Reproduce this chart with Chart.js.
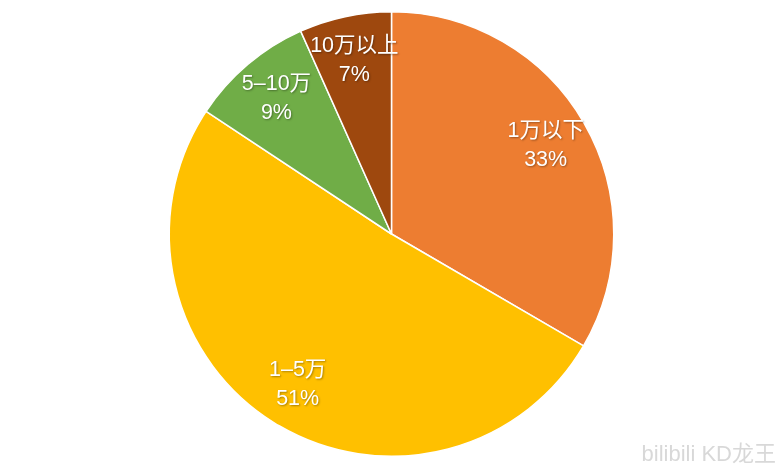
<!DOCTYPE html>
<html><head><meta charset="utf-8">
<script src="https://cdn.jsdelivr.net/npm/chart.js@4"></script>
<style>html,body{margin:0;padding:0;background:#fff;}#wrap{width:783px;height:470px;position:relative;}</style>
</head><body><div id="wrap"><canvas id="c" width="783" height="470"></canvas></div>
<script>
const categories = ['1万以下', '1–5万', '5–10万', '10万以上'];
const values = [33.4, 50.9, 9.0, 6.7];
const colors = ['#ED7D31', '#FFC000', '#70AD47', '#9E480E'];

const labelPlugin = {
  id: 'sliceLabels',
  afterDatasetsDraw(chart) {
    const ctx = chart.ctx;
    const meta = chart.getDatasetMeta(0);
    const total = values.reduce((a, b) => a + b, 0);
    ctx.save();
    ctx.font = '21.5px "Liberation Sans", Arial, "Noto Sans CJK SC", sans-serif';
    ctx.fillStyle = '#fff';
    ctx.textAlign = 'center';
    ctx.textBaseline = 'middle';
    ctx.shadowColor = 'rgba(0,0,0,0.35)';
    ctx.shadowBlur = 2;
    ctx.shadowOffsetX = 1;
    ctx.shadowOffsetY = 1;
    meta.data.forEach((arc, i) => {
      const p = arc.getProps(['x', 'y', 'startAngle', 'endAngle', 'outerRadius'], true);
      const mid = (p.startAngle + p.endAngle) / 2;
      const r = p.outerRadius * 0.8;
      const x = p.x + Math.cos(mid) * r;
      const y = p.y + Math.sin(mid) * r;
      const pct = Math.round(values[i] / total * 100) + '%';
      ctx.fillText(categories[i], x, y - 14.5);
      ctx.fillText(pct, x, y + 14.5);
    });
    ctx.restore();
    // watermark
    ctx.save();
    ctx.font = '22px "Liberation Sans", Arial, "Noto Sans CJK SC", sans-serif';
    ctx.fillStyle = 'rgba(200,200,200,0.7)';
    ctx.textAlign = 'right';
    ctx.textBaseline = 'middle';
    ctx.fillText('bilibili KD龙王', 776, 455);
    ctx.restore();
  }
};

new Chart(document.getElementById('c'), {
  type: 'pie',
  data: {
    labels: categories,
    datasets: [{
      data: values,
      backgroundColor: colors,
      borderColor: '#fff',
      borderWidth: 1.5
    }]
  },
  options: {
    responsive: false,
    animation: false,
    layout: { padding: { top: 11, bottom: 13, left: 0, right: 0 } },
    plugins: { legend: { display: false }, tooltip: { enabled: false } }
  },
  plugins: [labelPlugin]
});
</script></body></html>
